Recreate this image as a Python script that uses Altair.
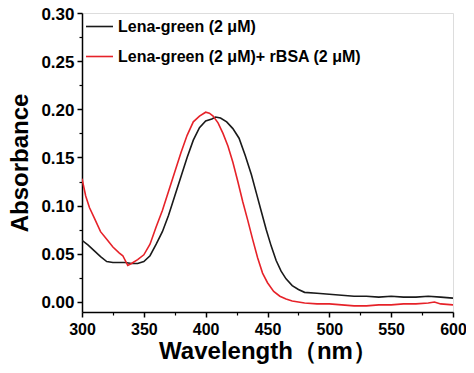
import altair as alt
import pandas as pd

series_names = ["Lena-green (2 μM)", "Lena-green (2 μM)+ rBSA (2 μM)"]
series_colors = ["#1a1a1a", "#e62229"]

wl_black = [300, 305, 310, 315, 320, 325, 330, 335, 340, 345, 350, 355, 360, 365, 370, 375, 380, 385,
            390, 395, 400, 405, 408, 412, 417, 422, 427, 432, 437, 441, 445, 449, 453, 457, 461, 465,
            470, 475, 480, 490, 500, 510, 520, 530, 540, 550, 560, 570, 580, 590, 600]
abs_black = [0.064, 0.059, 0.053, 0.047, 0.042, 0.041, 0.041, 0.041, 0.040, 0.040, 0.042, 0.048, 0.060,
             0.073, 0.090, 0.110, 0.130, 0.150, 0.168, 0.181, 0.188, 0.190, 0.192, 0.191, 0.187, 0.180,
             0.170, 0.152, 0.132, 0.113, 0.094, 0.075, 0.058, 0.043, 0.032, 0.024, 0.017, 0.013, 0.010,
             0.009, 0.008, 0.007, 0.006, 0.006, 0.005, 0.006, 0.005, 0.005, 0.006, 0.005, 0.004]

wl_red = [300, 303, 306, 310, 315, 320, 325, 330, 333, 337, 340, 345, 350, 355, 360, 365, 370, 375,
          380, 385, 390, 395, 400, 403, 406, 410, 414, 418, 422, 426, 430, 434, 438, 442, 446, 450,
          455, 460, 465, 470, 480, 490, 500, 510, 520, 530, 540, 550, 560, 570, 580, 585, 590, 600]
abs_red = [0.128, 0.110, 0.098, 0.087, 0.073, 0.065, 0.057, 0.051, 0.048, 0.038, 0.040, 0.044, 0.049,
           0.060, 0.078, 0.095, 0.115, 0.135, 0.155, 0.173, 0.187, 0.193, 0.197, 0.196, 0.193, 0.186,
           0.175, 0.162, 0.145, 0.125, 0.104, 0.085, 0.065, 0.046, 0.030, 0.020, 0.011, 0.006, 0.003,
           0.001, -0.001, -0.002, -0.002, -0.003, -0.004, -0.004, -0.003, -0.003, -0.002, -0.002,
           -0.001, 0.000, -0.002, -0.003]

x_major = [300, 350, 400, 450, 500, 550, 600]
x_minor = [325, 375, 425, 475, 525, 575]
y_major = [0.0, 0.05, 0.10, 0.15, 0.20, 0.25, 0.30]
y_minor = [0.025, 0.075, 0.125, 0.175, 0.225, 0.275]

df = pd.concat([
    pd.DataFrame({"wl": wl_black, "abs": abs_black, "series": series_names[0], "order": range(len(wl_black))}),
    pd.DataFrame({"wl": wl_red, "abs": abs_red, "series": series_names[1], "order": range(len(wl_red))}),
])

FONT = "Liberation Sans"
xscale = alt.Scale(domain=[300, 600], nice=False, zero=False)
yscale = alt.Scale(domain=[-0.0104, 0.30], nice=False, zero=False)

main = alt.Chart(df).mark_line(strokeWidth=1.6, clip=True).encode(
    x=alt.X("wl:Q", scale=xscale, axis=alt.Axis(
        values=x_major, title="Wavelength（nm）", orient="bottom", grid=False,
        labelFont=FONT, labelFontSize=16, labelFontWeight="bold", labelColor="black",
        titleFont=FONT, titleFontSize=24, titleFontWeight="bold", titleColor="black",
        tickSize=5, tickColor="black", tickWidth=1.5, domainColor="black", domainWidth=1.5,
        labelPadding=4, titlePadding=2, labelFlush=False)),
    y=alt.Y("abs:Q", scale=yscale, axis=alt.Axis(
        values=y_major, format=".2f", title="Absorbance", orient="left", grid=False,
        labelFont=FONT, labelFontSize=17, labelFontWeight="bold", labelColor="black",
        titleFont=FONT, titleFontSize=24, titleFontWeight="bold", titleColor="black",
        tickSize=5, tickColor="black", tickWidth=1.5, domainColor="black", domainWidth=1.5,
        labelPadding=3, titlePadding=8, labelFlush=False, labelOffset=1)),
    color=alt.Color("series:N", scale=alt.Scale(domain=series_names, range=series_colors),
                    legend=alt.Legend(title=None, orient="none", legendX=3, legendY=-1,
                                      symbolType="stroke", symbolSize=729, symbolStrokeWidth=1.6,
                                      labelFont=FONT, labelFontSize=16, labelFontWeight="bold",
                                      labelColor="black", rowPadding=7, labelOffset=4,
                                      labelLimit=400, padding=0)),
    order="order:Q",
)

minor = alt.Chart(pd.DataFrame({"wl": x_minor, "abs": y_minor})).mark_point(opacity=0).encode(
    x=alt.X("wl:Q", scale=xscale, axis=alt.Axis(
        values=x_minor, labels=False, title=None, orient="bottom", grid=False, domain=False,
        tickSize=3, tickColor="black", tickWidth=1.2)),
    y=alt.Y("abs:Q", scale=yscale, axis=alt.Axis(
        values=y_minor, labels=False, title=None, orient="left", grid=False, domain=False,
        tickSize=3, tickColor="black", tickWidth=1.2)),
)

chart = alt.layer(minor, main).resolve_axis(x="independent", y="independent").properties(
    width=371, height=299,
    autosize=alt.AutoSizeParams(type="none"),
    padding={"left": 74, "top": 5, "right": 13, "bottom": 53},
).configure_view(stroke="black", strokeWidth=1.5).configure(background="white")

chart.save("out.html", embed_options={"renderer": "svg", "actions": False})
